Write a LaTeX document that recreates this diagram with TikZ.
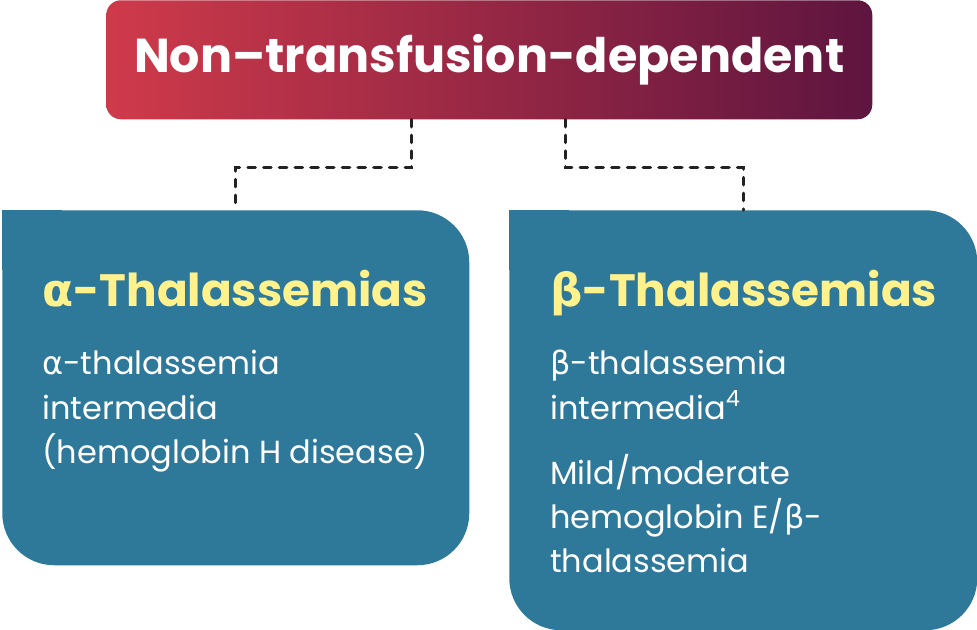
\documentclass[tikz,border=0pt]{standalone}
\usepackage{fontspec}
\setmainfont{Poppins}
\newfontfamily\greekfont{DejaVu Sans}
\usetikzlibrary{positioning, calc}
\definecolor{ntdred}{RGB}{207,58,74}
\definecolor{ntdplum}{RGB}{94,21,63}
\definecolor{thalblue}{RGB}{46,120,154}
\definecolor{thalyellow}{RGB}{255,241,140}
\definecolor{linkgray}{RGB}{34,34,34}
\newcommand{\galpha}{{\greekfont α}}
\newcommand{\gbeta}{{\greekfont β}}

\begin{document}
\begin{tikzpicture}[x=0.75pt, y=-0.75pt,
  typebox/.style={fill=thalblue, rounded corners=39pt, inner sep=0pt, anchor=north west},
  headtext/.style={font=\fontsize{34}{40}\selectfont\bfseries, text=thalyellow, inner sep=0pt, anchor=base west},
  bodytext/.style={font=\fontsize{24}{33}\selectfont, text=white, inner sep=0pt, anchor=base west},
  linkline/.style={linkgray, line width=2.5pt, line cap=round, dash pattern=on 5.5pt off 6.3pt}]
  \useasboundingbox (0,0) rectangle (977,630);

  % Title bar
  \node[left color=ntdred, right color=ntdplum, rounded corners=11pt, inner sep=0pt,
        minimum width=574.5pt, minimum height=89.25pt, anchor=north west,
        font=\fontsize{35.7}{42}\selectfont\bfseries, text=white] (title) at (106,0)
        {Non--transfusion-dependent};

  % Type boxes (top-left corner kept square)
  \node[typebox, minimum width=350.25pt, minimum height=266.25pt] (alpha) at (2,210) {};
  \fill[thalblue] (alpha.north west) rectangle ++(60,60);
  \node[typebox, minimum width=351pt, minimum height=315pt] (beta) at (509,210) {};
  \fill[thalblue] (beta.north west) rectangle ++(60,60);

  % Dashed links
  \draw[linkline] ([xshift=-58.1pt]title.south) -- ++(0,48) -| (alpha.north);
  \draw[linkline] ([xshift=57pt]title.south) -- ++(0,48) -| (beta.north);

  % --- alpha box ---
  \node[headtext] (alphahead) at (42,307) {\galpha-Thalassemias};
  \node[bodytext] (alphaone) at (42,375) {\galpha-thalassemia};
  \node[bodytext] (alphatwo) at (42,419) {intermedia};
  \node[bodytext] (alphathree) at (42,463) {(hemoglobin H disease)};

  % --- beta box ---
  \node[headtext] (betahead) at (550,307) {\gbeta-Thalassemias};
  \node[bodytext] (betaone) at (550,375) {\gbeta-thalassemia};
  \node[bodytext] (betatwo) at (550,419) {intermedia\textsuperscript{4}};
  \node[bodytext] (betathree) at (550,484) {Mild/moderate};
  \node[bodytext] (betafour) at (550,528) {hemoglobin E/\gbeta-};
  \node[bodytext] (betafive) at (550,572) {thalassemia};
\end{tikzpicture}
\end{document}
